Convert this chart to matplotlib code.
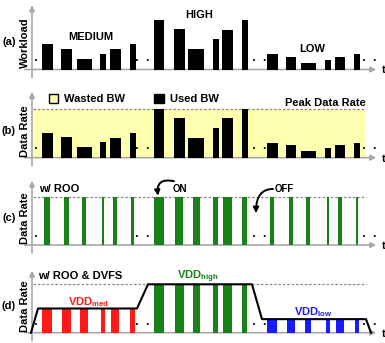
import numpy as np
import matplotlib
matplotlib.use("Agg")
import matplotlib.pyplot as plt
from matplotlib.patches import Rectangle

plt.rcParams['font.family'] = ['Liberation Sans', 'DejaVu Sans']
plt.rcParams['font.weight'] = 'bold'
plt.rcParams['mathtext.fontset'] = 'custom'
plt.rcParams['mathtext.rm'] = 'Liberation Sans:bold'
plt.rcParams['mathtext.it'] = 'Liberation Sans:bold'
plt.rcParams['mathtext.bf'] = 'Liberation Sans:bold'

# ---- data (time in arbitrary units, rate normalised to peak = 1) ----
bar_t = [15, 34.5, 52, 71, 83, 100.5, 127, 147, 164, 183.5, 195.5, 212.5,
         240, 259, 276, 296, 308, 325]
bar_w = [11, 11, 15, 6, 11, 6, 10, 11, 16, 6, 11, 6, 11, 10, 15, 6, 10, 6]
workload = [0.51, 0.42, 0.21, 0.32, 0.41, 0.51, 1.0, 0.82, 0.41, 0.61, 0.80, 1.0,
            0.31, 0.25, 0.13, 0.19, 0.25, 0.31]
roo_w = [5.7, 5, 4.7, 2.6, 4.7, 3.3, 10.3, 8.7, 7, 4.3, 9.3, 4.7,
         4, 4.3, 3.4, 2.6, 4, 2.6]
dvfs_w = [9.4, 9.3, 7.3, 4.3, 8.7, 5.7, 10.3, 9, 7, 4.3, 9.3, 5.3,
          9.4, 8, 6.7, 4, 8, 4.6]
phase = ['med'] * 6 + ['high'] * 6 + ['low'] * 6
vdd_level = {'med': 0.5, 'high': 1.0, 'low': 0.28}
env_t = [-1, 6, 105, 116, 220, 230, 334, 339]
env_y = [0, 0.5, 0.5, 1.0, 1.0, 0.28, 0.28, 0]
avg_level = 0.19
dot_spans = [(3, 15), (104, 121), (221, 240), (331, 347)]
peak = 1.0
t_end = 334

GREEN = '#178217'
RED = '#ff1a1a'
BLUE = '#1a1aff'
YELLOW = '#ffffb0'
GRAY = '#a8a8a8'
phase_col = {'med': RED, 'high': GREEN, 'low': BLUE}

W, H = 385, 343
fig = plt.figure(figsize=(W / 100, H / 100), dpi=100)

# baseline / unit height of each panel in pixels
panels = [(69.5, 49.2), (157.7, 49.0), (245.0, 48.3), (332.7, 48.4)]
ylo, yhi = -0.35, 1.45
axes = []
for base, unit in panels:
    top = base - yhi * unit
    bot = base - ylo * unit
    ax = fig.add_axes([0, 1 - bot / H, 1, (bot - top) / H])
    ax.set_xlim(-32, W - 32)
    ax.set_ylim(ylo, yhi)
    ax.axis('off')
    axes.append(ax)


def frame(ax, ytop, label, tag):
    ax.annotate('', xy=(0, ytop), xytext=(0, -0.22),
                arrowprops=dict(arrowstyle='-|>', color=GRAY, lw=1.2, mutation_scale=8))
    ax.annotate('', xy=(347, 0), xytext=(-10, 0),
                arrowprops=dict(arrowstyle='-|>', color=GRAY, lw=1.2, mutation_scale=8))
    ax.text(350, -0.02, 't', fontsize=8, va='center', ha='left')
    ax.text(-7, 0.55, label, rotation=90, fontsize=8, ha='center', va='center')
    ax.text(-23, 0.55, tag, fontsize=8, ha='center', va='center')
    for a, b in dot_spans:
        ax.plot([a, b], [avg_level, avg_level], color='black', lw=1.3,
                linestyle=(0, (1, 5)), zorder=1)


# (a) workload
ax = axes[0]
frame(ax, 1.36, 'Workload', '(a)')
ax.bar(bar_t, workload, width=bar_w, color='black', zorder=3)
ax.text(59, 0.67, 'MEDIUM', fontsize=8, ha='center', va='center')
ax.text(167, 1.11, 'HIGH', fontsize=8, ha='center', va='center')
ax.text(280, 0.42, 'LOW', fontsize=8, ha='center', va='center')

# (b) used vs wasted bandwidth
ax = axes[1]
frame(ax, 1.40, 'Data Rate', '(b)')
ax.fill_between([1, t_end], 0, peak, color=YELLOW, lw=0, zorder=0)
ax.plot([1, t_end], [peak, peak], color='#888888', lw=0.9, ls=(0, (2, 1.5)), zorder=2)
ax.bar(bar_t, workload, width=bar_w, color='black', zorder=3)
ax.add_patch(Rectangle((17, 1.12), 9, 0.17, facecolor=YELLOW, edgecolor='black', lw=1, clip_on=False))
ax.text(32, 1.2, 'Wasted BW', fontsize=8, va='center')
ax.add_patch(Rectangle((122, 1.12), 10, 0.17, facecolor='black', edgecolor='black', lw=1, clip_on=False))
ax.text(138, 1.2, 'Used BW', fontsize=8, va='center')
ax.text(t_end, 1.11, 'Peak Data Rate', fontsize=8, ha='right', va='center')

# (c) race-to-idle with ROO
ax = axes[2]
frame(ax, 1.39, 'Data Rate', '(c)')
ax.plot([1, t_end], [peak, peak], color='#888888', lw=0.9, ls=(0, (2, 1.5)), zorder=2)
ax.bar(bar_t, [peak] * len(bar_t), width=roo_w, color=GREEN, zorder=3)
ax.text(7, 1.16, 'w/ ROO', fontsize=8, va='center')
ax.text(141, 1.16, 'ON', fontsize=7, va='center')
ax.text(243, 1.16, 'OFF', fontsize=7, va='center')
ax.annotate('', xy=(126, 1.02), xytext=(142, 1.32),
            arrowprops=dict(arrowstyle='-|>', color='black', lw=1.4, mutation_scale=8,
                            connectionstyle='arc3,rad=0.7', shrinkA=0, shrinkB=0))
ax.annotate('', xy=(224, 0.66), xytext=(241, 1.16),
            arrowprops=dict(arrowstyle='-|>', color='black', lw=1.4, mutation_scale=8,
                            connectionstyle='angle3,angleA=0,angleB=90', shrinkA=0, shrinkB=0))

# (d) ROO + DVFS
ax = axes[3]
frame(ax, 1.34, 'Data Rate', '(d)')
ax.plot([1, t_end], [peak, peak], color='#888888', lw=0.9, ls=(0, (2, 1.5)), zorder=2)
ax.bar(bar_t, [vdd_level[p] for p in phase], width=dvfs_w,
       color=[phase_col[p] for p in phase], zorder=3)
ax.plot(env_t, env_y, color='black', lw=1.5, zorder=4)
ax.text(6, 1.17, 'w/ ROO & DVFS', fontsize=8, va='center')
ax.text(57, 0.64, r'VDD$_{\mathrm{med}}$', fontsize=8, color=RED, ha='center', va='center')
ax.text(166, 1.16, r'VDD$_{\mathrm{high}}$', fontsize=8, color=GREEN, ha='center', va='center')
ax.text(281, 0.43, r'VDD$_{\mathrm{low}}$', fontsize=8, color=BLUE, ha='center', va='center')

fig.savefig('out.png', dpi=100)
